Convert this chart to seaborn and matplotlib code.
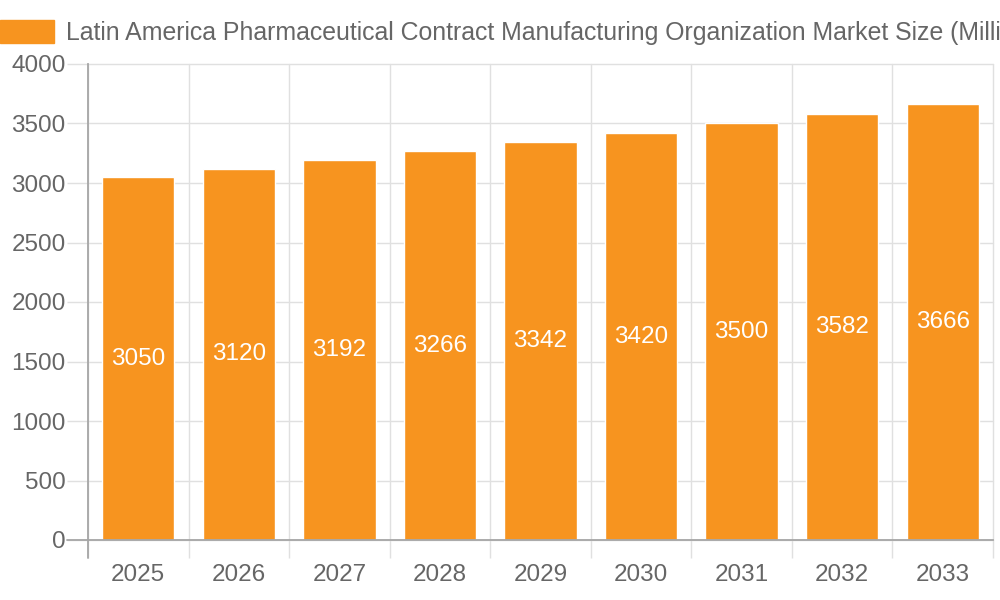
import numpy as np
import pandas as pd
import seaborn as sns
import matplotlib.pyplot as plt
from matplotlib.patches import Rectangle
from matplotlib.ticker import FixedLocator

years = ["2025", "2026", "2027", "2028", "2029", "2030", "2031", "2032", "2033"]
market_size = [3050, 3120, 3192, 3266, 3342, 3420, 3500, 3582, 3666]
series_name = "Latin America Pharmaceutical Contract Manufacturing Organization Market Size (Million USD)"

bar_color = "#F7941F"
grid_color = "#E0E0E0"
axis_color = "#A6A6A6"
text_color = "#666666"
font_size = 17.5

df = pd.DataFrame({"year": years, "value": market_size})

sns.set_theme(style="white")
plt.rcParams["font.family"] = ["Liberation Sans", "DejaVu Sans"]

fig = plt.figure(figsize=(10, 6), dpi=100)
ax = fig.add_axes([0.088, 0.1, 0.905, 476 / 600])

sns.barplot(data=df, x="year", y="value", color=bar_color, saturation=1,
            width=0.72, ax=ax, zorder=3)

ax.set_xlim(-0.5, len(years) - 0.5)
ax.set_ylim(0, 4000)
ax.set_yticks(np.arange(0, 4001, 500))
ax.xaxis.set_minor_locator(FixedLocator(np.arange(-0.5, len(years), 1)))

ax.grid(axis="y", which="major", color=grid_color, lw=1, zorder=0)
ax.grid(axis="x", which="minor", color=grid_color, lw=1, zorder=0)
for t in ax.xaxis.get_minor_ticks() + ax.yaxis.get_major_ticks():
    t.gridline.set_clip_on(False)

ax.tick_params(axis="y", which="major", length=15, width=1, color=grid_color,
               pad=1, labelsize=font_size, labelcolor=text_color, left=True)
ax.tick_params(axis="x", which="major", length=0, pad=17, labelsize=font_size,
               labelcolor=text_color)
ax.tick_params(axis="x", which="minor", length=13, width=1, color=grid_color,
               bottom=True)

for side in ["top", "right"]:
    ax.spines[side].set_visible(False)
for side in ["left", "bottom"]:
    ax.spines[side].set_color(axis_color)
    ax.spines[side].set_linewidth(1.3)
    ax.spines[side].set_zorder(4)

# axis lines continue past the origin like the tick marks
ax.plot([0, 0], [0, -18 / 476], transform=ax.transAxes, color=axis_color,
        lw=1.3, clip_on=False, zorder=4)
ax.plot([-21 / 905, 0], [0, 0], transform=ax.transAxes, color=axis_color,
        lw=1.3, clip_on=False, zorder=4)

ax.set_xlabel("")
ax.set_ylabel("")

# value labels in the middle of each bar
for i, v in enumerate(market_size):
    ax.text(i, v / 2, str(v), ha="center", va="center", color="white",
            fontsize=font_size, zorder=5)

# legend box at top; like the reference the long name runs off the right edge
fig.patches.append(Rectangle((0, 1 - 43 / 600), 54 / 1000, 23 / 600,
                             transform=fig.transFigure, color=bar_color))
fig.text(66 / 1000, 1 - 33 / 600, series_name, ha="left", va="center",
         fontsize=17.9, color=text_color)

fig.savefig("out.png", dpi=100)
